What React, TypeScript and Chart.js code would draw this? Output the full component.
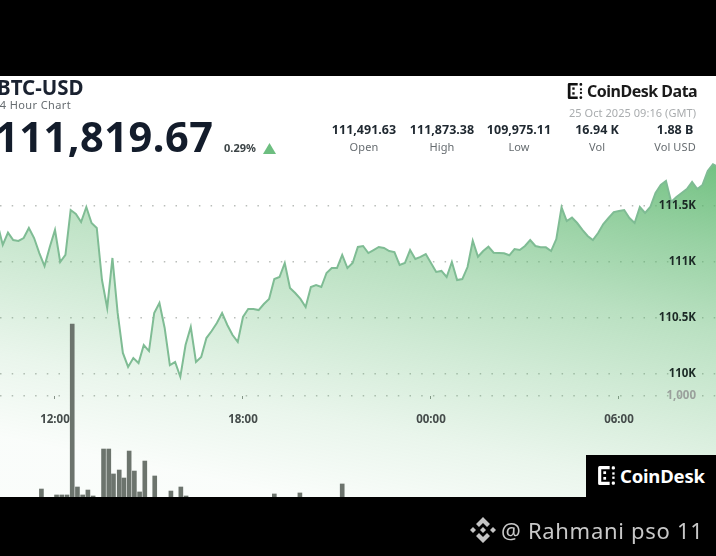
import React, { useEffect, useRef } from "react";
import { Chart, registerables } from "chart.js";

Chart.register(...registerables);

const startMinute = -110; // minutes relative to 12:00
const stepMinutes = 10;
const priceValues = [
  111339, 111152, 111262, 111196, 111188, 111214, 111304, 111214, 111080, 110964,
  111134, 111286, 111000, 111063, 111464, 111429, 111357, 111491, 111348, 111304,
  110839, 110589, 111036, 110545, 110188, 110063, 110143, 110098, 110259, 110205,
  110545, 110634, 110411, 110080, 110107, 109975, 110259, 110420, 110107, 110152,
  110321, 110384, 110455, 110545, 110438, 110348, 110286, 110509, 110580, 110580,
  110571, 110625, 110670, 110848, 110866, 110991, 110768, 110723, 110670, 110598,
  110777, 110795, 110777, 110902, 110946, 110946, 111063, 110946, 110991, 111134,
  111143, 111080, 111107, 111134, 111125, 111098, 111089, 110973, 110991, 111107,
  111027, 111045, 111071, 110991, 110911, 110920, 110866, 111000, 110839, 110848,
  110955, 111190, 111047, 111098, 111137, 111083, 111080, 111078, 111060, 111116,
  111107, 111143, 111196, 111143, 111131, 111131, 111098, 111205, 111488, 111366,
  111396, 111348, 111286, 111232, 111196, 111259, 111339, 111393, 111446, 111455,
  111464, 111393, 111348, 111491, 111438, 111491, 111616, 111688, 111723, 111536,
  111580, 111616, 111652, 111714, 111652, 111688, 111813, 111873, 111848,
];
const volumeMinutes = [-26, 3, 13, 23, 33, 43, 53, 63, 73, 93, 103, 112, 123, 132, 142, 152, 162, 172, 191, 222, 241, 251, 420, 469, 550];
const volumeValues = [79, 20, 20, 20, 1713, 99, 20, 69, 10, 475, 475, 228, 267, 188, 455, 257, 50, 356, 208, 59, 99, 10, 30, 40, 129];
const timeTickMinutes = [0, 360, 720, 1080];
const timeTickLabels = ["12:00", "18:00", "00:00", "06:00"];
const priceTicks = [110000, 110500, 111000, 111500];
const priceTickLabels = ["110K", "110.5K", "111K", "111.5K"];
const volumeTicks = [1000];
const volumeTickLabels = ["1,000"];
const stats = [
  { value: "111,491.63", label: "Open", center: 364 },
  { value: "111,873.38", label: "High", center: 442 },
  { value: "109,975.11", label: "Low", center: 519 },
  { value: "16.94 K", label: "Vol", center: 597 },
  { value: "1.88 B", label: "Vol USD", center: 675 },
];

const FONT = '"Noto Sans", "Open Sans", sans-serif';

function Logo({ x, y, size, color }: { x: number; y: number; size: number; color: string }) {
  return (
    <svg width={size} height={size} viewBox="0 0 20 20" style={{ position: "absolute", left: x, top: y }}>
      <path d="M13 2.5H3.5V17.5H13" fill="none" stroke={color} strokeWidth="3" strokeLinejoin="round" />
      <rect x="7" y="6" width="2.6" height="2.6" fill={color} />
      <rect x="7" y="11.4" width="2.6" height="2.6" fill={color} />
      <rect x="15" y="1.2" width="3" height="3" rx="1.2" fill={color} />
      <rect x="15" y="15.8" width="3" height="3" rx="1.2" fill={color} />
      <rect x="15.5" y="7" width="2.2" height="2.2" fill={color} />
      <rect x="15.5" y="11" width="2.2" height="2.2" fill={color} />
    </svg>
  );
}

function Text(props: { x?: number; right?: number; cx?: number; y: number; size: number; weight?: number; color: string; spacing?: number; children: React.ReactNode }) {
  const { x, right, cx, y, size, weight = 400, color, spacing = 0, children } = props;
  const style: React.CSSProperties = {
    position: "absolute",
    top: y,
    transform: cx !== undefined ? "translate(-50%,-50%)" : "translateY(-50%)",
    fontFamily: FONT,
    fontSize: size,
    fontWeight: weight,
    color,
    letterSpacing: spacing,
    whiteSpace: "nowrap",
    lineHeight: 1,
  };
  if (x !== undefined) style.left = x;
  if (right !== undefined) style.right = right;
  if (cx !== undefined) style.left = cx;
  return <div style={style}>{children}</div>;
}

export default function App() {
  const canvasRef = useRef<HTMLCanvasElement | null>(null);

  useEffect(() => {
    const canvas = canvasRef.current;
    if (!canvas) return;
    const chart = new Chart(canvas, {
      type: "bar",
      data: {
        datasets: [
          {
            type: "bar",
            order: 0,
            yAxisID: "yVol",
            data: volumeMinutes.map((m, i) => ({ x: m, y: volumeValues[i] })),
            backgroundColor: "#6c746d",
            barThickness: 4,
            grouped: false,
          } as any,
          {
            type: "line",
            order: 1,
            yAxisID: "y",
            data: priceValues.map((v, i) => ({ x: startMinute + i * stepMinutes, y: v })),
            borderColor: "#7fbc94",
            borderWidth: 2,
            pointRadius: 0,
            tension: 0,
            fill: "start",
            backgroundColor: (c: any) => {
              const area = c.chart.chartArea;
              if (!area) return "rgba(0,0,0,0)";
              const g = c.chart.ctx.createLinearGradient(716, 164, 636, 564);
              g.addColorStop(0, "rgba(90,182,108,0.85)");
              g.addColorStop(0.2, "rgba(90,182,108,0.62)");
              g.addColorStop(0.4, "rgba(90,182,108,0.42)");
              g.addColorStop(0.6, "rgba(90,182,108,0.27)");
              g.addColorStop(0.8, "rgba(90,182,108,0.13)");
              g.addColorStop(1, "rgba(90,182,108,0.03)");
              return g;
            },
          } as any,
        ],
      },
      options: {
        responsive: false,
        animation: false,
        layout: { padding: { top: 77, bottom: 59, left: 0, right: 0 } },
        plugins: { legend: { display: false }, tooltip: { enabled: false } },
        scales: {
          x: {
            type: "linear",
            offset: false,
            min: -105.3,
            max: 1265.8,
            position: { yVol: 1000 } as any,
            border: { display: false },
            grid: { offset: false, drawOnChartArea: false, drawTicks: true, tickLength: 3, color: "#8a8f8a" },
            afterBuildTicks: (s: any) => {
              s.ticks = timeTickMinutes.map((value) => ({ value }));
            },
            ticks: {
              autoSkip: false,
              maxRotation: 0,
              padding: 14,
              z: 1,
              color: "#444b4a",
              font: { family: FONT, size: 11.5, weight: 700 },
              callback: (v: any) => timeTickLabels[timeTickMinutes.indexOf(Number(v))] ?? "",
            },
          },
          y: {
            position: "right",
            min: 108901.8,
            max: 112651.8,
            border: { display: false, dash: [1.5, 10.2] },
            grid: { color: "#b9bdb9", lineWidth: 1.5, drawTicks: false },
            afterFit: (s: any) => {
              s.width = 0;
            },
            afterBuildTicks: (s: any) => {
              s.ticks = priceTicks.map((value) => ({ value }));
            },
            ticks: {
              mirror: true,
              padding: -20,
              z: 1,
              color: "#1c2a26",
              font: { family: FONT, size: 11.5, weight: 700 },
              callback: (v: any) => priceTickLabels[priceTicks.indexOf(Number(v))] ?? "",
            },
          },
          yVol: {
            position: "right",
            min: 0,
            max: 4158,
            border: { display: false, dash: [1.5, 10.2] },
            grid: { color: "#b9bdb9", lineWidth: 1.5, drawTicks: false },
            afterFit: (s: any) => {
              s.width = 0;
            },
            afterBuildTicks: (s: any) => {
              s.ticks = volumeTicks.map((value) => ({ value }));
            },
            ticks: {
              mirror: true,
              padding: -20,
              z: 1,
              color: "#9aa09c",
              font: { family: FONT, size: 11.5, weight: 700 },
              callback: (v: any) => volumeTickLabels[volumeTicks.indexOf(Number(v))] ?? "",
            },
          },
        },
      } as any,
    });
    return () => chart.destroy();
  }, []);

  return (
    <div style={{ position: "fixed", left: 0, top: 0, width: 716, height: 556, background: "#000", overflow: "hidden", filter: "blur(0.45px)" }}>
      <div style={{ position: "absolute", left: 0, top: 76, width: 716, height: 421, background: "#fff" }} />
      <canvas ref={canvasRef} width={716} height={556} style={{ position: "absolute", left: 0, top: 0, width: 716, height: 556 }} />

      <Text x={-3} y={87} size={20.5} weight={700} color="#1a2230">BTC-USD</Text>
      <Text x={-7} y={104} size={11} color="#666c70" spacing={0.4}>24 Hour Chart</Text>
      <Text x={-5} y={137} size={41.5} weight={700} color="#131c2b" spacing={0.5}>111,819.67</Text>
      <Text x={224} y={147} size={11} weight={700} color="#3c4446">0.29%</Text>
      <svg width={13} height={11} style={{ position: "absolute", left: 263, top: 143 }}>
        <polygon points="6.5,0 13,11 0,11" fill="#6dbe80" />
      </svg>

      {stats.map((s) => (
        <React.Fragment key={s.label}>
          <Text cx={s.center} y={130} size={12.5} weight={700} color="#1f2830">{s.value}</Text>
          <Text cx={s.center} y={146} size={11} color="#666c70" spacing={0.1}>{s.label}</Text>
        </React.Fragment>
      ))}

      <Logo x={566} y={82} size={18} color="#111" />
      <Text x={587} y={91} size={16} weight={700} color="#1a1a1a" spacing={-0.5}>CoinDesk Data</Text>
      <Text right={20} y={112} size={11} color="#a9acae" spacing={0.05}>25 Oct 2025 09:16 (GMT)</Text>

      <div style={{ position: "absolute", left: 586, top: 455, width: 130, height: 42, background: "#000" }} />
      <Logo x={596} y={465} size={21} color="#fff" />
      <Text x={620} y={476} size={18.5} weight={700} color="#fff" spacing={-0.2}>CoinDesk</Text>

      <svg width={28} height={28} viewBox="0 0 28 28" style={{ position: "absolute", left: 469, top: 516 }}>
        <g fill="#c4c4c4">
          <polygon points="14,1 21,8 18,11 14,7 10,11 7,8" />
          <polygon points="14,27 21,20 18,17 14,21 10,17 7,20" />
          <polygon points="4,11 7,14 4,17 1,14" />
          <polygon points="24,11 27,14 24,17 21,14" />
          <polygon points="14,11 17,14 14,17 11,14" />
        </g>
      </svg>
      <Text x={501} y={530} size={22} color="#c8c8c8" spacing={0.7}>@ Rahmani pso 11</Text>
    </div>
  );
}
